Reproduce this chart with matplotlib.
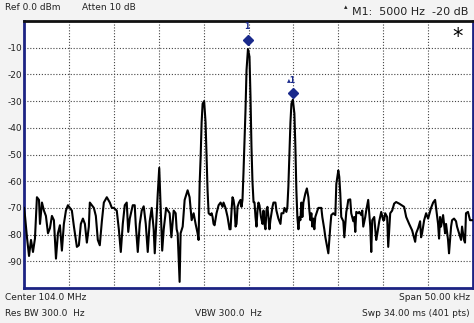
import matplotlib
matplotlib.use("Agg")
import matplotlib.pyplot as plt

# trace: offset from 104.0 MHz centre (kHz) and level (dB)
freq_khz = [
    -25.00, -24.89, -24.67, -24.44, -24.22, -24.00, -23.78, -23.56, -23.33, -23.22,
    -23.00, -22.78, -22.56, -22.33, -22.11, -21.89, -21.67, -21.44, -21.22, -21.00,
    -20.78, -20.56, -20.33, -20.11, -19.89, -19.67, -19.44, -19.11, -18.89, -18.67,
    -18.44, -18.22, -18.00, -17.78, -17.67, -17.44, -17.22, -17.00, -16.78, -16.56,
    -16.33, -16.11, -15.78, -15.44, -15.22, -15.00, -14.67, -14.44, -14.22, -14.00,
    -13.78, -13.56, -13.39, -13.22, -12.89, -12.67, -12.56, -12.33, -12.11, -11.89,
    -11.67, -11.44, -11.22, -11.00, -10.78, -10.56, -10.44, -10.22, -10.11, -9.94,
    -9.78, -9.61, -9.44, -9.17, -8.78, -8.59, -8.33, -8.11, -8.00, -7.89,
    -7.67, -7.56, -7.33, -7.11, -6.78, -6.56, -6.33, -6.11, -5.89, -5.67,
    -5.56, -5.44, -5.33, -5.22, -5.11, -4.94, -4.78, -4.67, -4.56, -4.44,
    -4.22, -4.11, -4.00, -3.89, -3.78, -3.56, -3.33, -3.11, -2.89, -2.78,
    -2.56, -2.33, -2.11, -2.00, -1.89, -1.78, -1.67, -1.56, -1.44, -1.33,
    -1.22, -1.06, -0.89, -0.78, -0.67, -0.56, -0.44, -0.33, -0.22, -0.06,
    0.11, 0.22, 0.33, 0.44, 0.56, 0.67, 0.78, 0.89, 1.00, 1.11,
    1.22, 1.39, 1.56, 1.67, 1.78, 1.89, 2.00, 2.11, 2.22, 2.33,
    2.44, 2.67, 2.78, 3.00, 3.11, 3.33, 3.56, 3.67, 3.89, 4.00,
    4.22, 4.33, 4.44, 4.56, 4.67, 4.78, 4.94, 5.11, 5.22, 5.33,
    5.44, 5.56, 5.67, 5.78, 5.89, 6.00, 6.11, 6.33, 6.50, 6.67,
    6.78, 6.89, 7.00, 7.11, 7.22, 7.33, 7.44, 7.67, 7.78, 7.89,
    8.11, 8.22, 8.44, 8.56, 8.89, 9.11, 9.22, 9.44, 9.67, 9.78,
    10.00, 10.11, 10.22, 10.33, 10.56, 10.67, 10.89, 11.00, 11.11, 11.33,
    11.44, 11.67, 11.78, 11.89, 12.00, 12.22, 12.33, 12.56, 12.67, 12.78,
    13.00, 13.11, 13.33, 13.44, 13.56, 13.67, 13.78, 14.00, 14.22, 14.33,
    14.56, 14.78, 15.00, 15.11, 15.22, 15.44, 15.56, 15.78, 16.00, 16.22,
    16.44, 16.78, 17.33, 17.56, 17.89, 18.22, 18.56, 18.67, 18.89, 19.11,
    19.22, 19.33, 19.56, 19.78, 20.00, 20.33, 20.56, 20.78, 20.89, 21.11,
    21.22, 21.33, 21.44, 21.67, 21.89, 22.00, 22.22, 22.33, 22.56, 22.67,
    22.89, 23.11, 23.22, 23.44, 23.67, 23.78, 24.00, 24.11, 24.22, 24.44,
    24.67, 24.89,
]
level_db = [
    -70, -73, -81, -88, -82, -86.5, -81.5, -66, -67, -76,
    -68, -71, -73, -79.5, -77.6, -73, -74.6, -89, -79.5, -76.5,
    -86, -76, -71, -69, -70, -71, -77, -84.6, -84, -76,
    -74, -76, -83, -77, -68, -69, -70, -73, -82, -84,
    -75, -68, -66, -68, -70, -70, -71, -78, -86.5, -76,
    -69, -68, -79, -74, -69, -69, -76, -86.5, -76, -71,
    -69.4, -76, -86.5, -75, -70, -78, -87, -72, -65, -55,
    -70, -86, -78, -70, -72, -81, -71, -72, -78, -79.5,
    -97.7, -79.5, -77, -67, -63.4, -66, -74.6, -72, -76, -79.5,
    -82, -61, -51, -38, -31, -30, -38, -51, -63.4, -72,
    -72.7, -72, -73.4, -76, -76.5, -72, -69, -68, -69.6, -68,
    -70, -73.4, -78, -78, -71, -66, -67, -69.6, -77, -76,
    -69.6, -68, -67, -69.6, -67, -57, -44.6, -33, -18.4, -10.5,
    -13.4, -28, -47, -60, -67.8, -68, -73.4, -77, -71, -68,
    -69, -73.4, -76, -71, -76, -78, -71, -69.6, -73.4, -78,
    -74.6, -69.6, -68, -68, -71, -74, -76, -72, -72, -70,
    -71.5, -69.6, -62, -49.6, -38, -31, -29.5, -34.6, -47, -63.4,
    -73.4, -78, -73.4, -74.6, -68, -73.4, -68, -64.6, -62.7, -66,
    -71, -74.6, -72, -77, -74, -78, -73.4, -71, -70, -70,
    -70, -73.4, -78, -81, -87, -77, -72.7, -72, -72.7, -61,
    -56, -58.4, -64.6, -73.4, -75, -81, -71.5, -69.6, -67, -66.8,
    -72, -75, -73.4, -79, -71.5, -72, -71.5, -72.7, -71, -77,
    -73.4, -71, -67, -72, -77, -86.5, -74.6, -73.4, -82, -80,
    -75, -71.5, -74.6, -74.6, -72, -73.4, -84.6, -72, -71, -68.4,
    -67.8, -68.4, -69.6, -73.4, -76, -78.4, -82.7, -79.5, -77.6, -75,
    -81, -79.5, -74.6, -72, -74, -70, -68, -67, -70, -76,
    -81.5, -73.4, -77, -72.7, -79.5, -76, -82, -87, -77, -74.6,
    -74, -75, -77, -79.5, -82, -77, -82, -83, -72, -71.5,
    -74.6, -74.6,
]

# markers: reference (1) and delta (▲1)
marker_freq = [-0.06, 4.94]
marker_db = [-7, -27]
marker_labels = ["1", "\u25b41"]

y_ticks = [-10, -20, -30, -40, -50, -60, -70, -80, -90]
x_grid = [-20, -15, -10, -5, 0, 5, 10, 15, 20]

navy = "#1c2383"
W, H = 474, 323
fig = plt.figure(figsize=(W / 100, H / 100), dpi=100, facecolor="#f3f3f3")
ax = fig.add_axes([24 / W, (H - 288) / H, (473 - 24) / W, (288 - 21) / H])
ax.set_facecolor("white")

ax.set_xlim(-25, 25)
ax.set_ylim(-100, 0)

for y in y_ticks:
    ax.axhline(y, color="#444444", lw=0.8, ls=(0, (1, 1.6)), zorder=1)
for x in x_grid:
    ax.axvline(x, color="#444444", lw=0.8, ls=(0, (1, 1.6)), zorder=1)

ax.plot(freq_khz, level_db, color="black", lw=1.5, zorder=3, clip_on=True)

ax.plot(marker_freq, marker_db, ls="none", marker="D", ms=5.5,
        color="#1a2a8c", zorder=4)
for fx, fy, lab in zip(marker_freq, marker_db, marker_labels):
    ax.text(fx - 0.15, fy + 3.2, lab, color="#1a2a8c", fontsize=5.5,
            ha="center", va="bottom", fontweight="bold", zorder=4)

ax.set_xticks([])
ax.set_yticks(y_ticks)
ax.set_yticklabels([str(v) for v in y_ticks], fontsize=6.5, color="#222222")
ax.tick_params(axis="y", length=0, pad=1)

for side in ["left", "bottom", "right"]:
    ax.spines[side].set_color(navy)
    ax.spines[side].set_linewidth(2)
ax.spines["top"].set_color("#111111")
ax.spines["top"].set_linewidth(2)

ax.text(0.965, 0.94, "*", transform=ax.transAxes, fontsize=15,
        ha="center", va="center", color="black")


def ftext(x, y, s, ha="left", fs=6.5):
    fig.text(x / W, 1 - y / H, s, ha=ha, va="center", fontsize=fs,
             color="#222222")


ftext(5, 8, "Ref 0.0 dBm")
ftext(82, 8, "Atten 10 dB")
ftext(468, 12, "M1:  5000 Hz  -20 dB", ha="right", fs=8)
ftext(344, 7, "\u25b4", fs=5)
ftext(5, 298, "Center 104.0 MHz")
ftext(470, 298, "Span 50.00 kHz", ha="right")
ftext(5, 314, "Res BW 300.0  Hz")
ftext(195, 314, "VBW 300.0  Hz")
ftext(470, 314, "Swp 34.00 ms (401 pts)", ha="right")

fig.savefig("out.png", dpi=100, facecolor=fig.get_facecolor())
